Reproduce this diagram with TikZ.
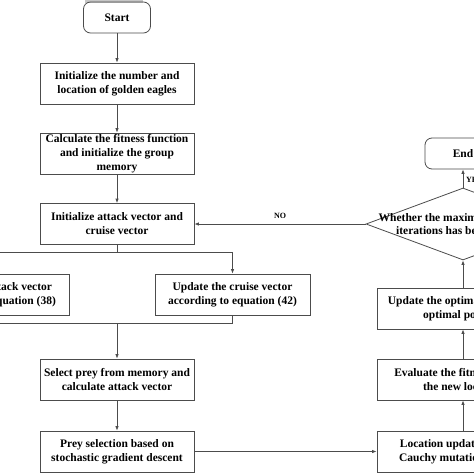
\documentclass[tikz,border=0pt]{standalone}
\usepackage{fontspec}
\setmainfont{Liberation Serif}
\usetikzlibrary{arrows.meta,shapes.geometric}
\tikzset{
  ln/.style={draw=black!70, line width=0.8pt},
  arr/.style={ln, -{Latex[length=4.5pt,width=3.5pt]}},
  box/.style={ln, rectangle, align=center, font=\bfseries\fontsize{11.5}{14}\selectfont, inner sep=0pt, minimum width=154pt, minimum height=41pt},
  rbox/.style={box, minimum width=172pt},
  term/.style={box, rounded corners=7pt, minimum width=67pt, minimum height=31pt},
  lbl/.style={font=\bfseries\fontsize{8}{9}\selectfont, inner sep=0pt}
}
\begin{document}
\begin{tikzpicture}[x=1pt,y=-1pt]
\useasboundingbox (0,0) rectangle (474,474);
\clip (0,0) rectangle (474,474);
\fill[white] (0,0) rectangle (474,474);
\fill[gray!45] (85,0) rectangle (143,3);
\node[term] (start) at (117,17.5) {Start};
\node[box] (b1) at (117,83.5) {Initialize the number and\\location of golden eagles};
\node[box] (b2) at (117,153.5) {Calculate the fitness function\\and initialize the group\\memory};
\node[box] (b3) at (117,224) {Initialize attack vector and\\cruise vector};
\node[box, minimum width=155pt] (ba) at (-8.5,294.5) {Update the attack vector\\according to equation (38)};
\node[box, minimum width=155pt] (bc) at (232.5,294.5) {Update the cruise vector\\according to equation (42)};
\node[box] (b4) at (117,379.5) {Select prey from memory and\\calculate attack vector};
\node[box] (b5) at (117,451.5) {Prey selection based on\\stochastic gradient descent};
\node[rbox] (r1) at (463,451.5) {Location update based on\\Cauchy mutation strategy};
\node[rbox] (r2) at (463,379.5) {Evaluate the fitness value of\\the new location};
\node[rbox] (r3) at (463,308.5) {Update the optimal fitness and\\optimal position};
\node[ln, diamond, minimum width=194pt, minimum height=72pt, inner sep=0pt] (dec) at (463,224) {};
\node[align=center, inner sep=0pt, font=\bfseries\fontsize{11.5}{13}\selectfont] (dect) at (dec.center) {Whether the maximum number of\\iterations has been reached};
\node[term, minimum width=76pt] (end) at (463,153.5) {End};
\draw[arr] (start) -- (b1);
\draw[arr] (b1) -- (b2);
\draw[arr] (b2) -- (b3);
\coordinate (s1) at (117,252);
\coordinate (s2) at (117,323);
\draw[ln] (b3.south) -- (s1);
\draw[ln] (ba.north |- s1) -- (bc.north |- s1);
\draw[arr] (ba.north |- s1) -- (ba.north);
\draw[arr] (bc.north |- s1) -- (bc.north);
\draw[ln] (ba.south) -- (ba.south |- s2) -- (bc.south |- s2) -- (bc.south);
\draw[arr] (s2) -- (b4);
\draw[arr] (b4) -- (b5);
\draw[arr] (b5) -- (r1);
\draw[arr] (r1) -- (r2);
\draw[arr] (r2) -- (r3);
\draw[arr] (r3) -- (dec.south);
\draw[arr] (dec.north) -- (end);
\draw[arr] (dec.west) -- node[lbl, above=5pt] {NO} (b3.east);
\node[lbl, anchor=west] (yes) at (466,180) {YES};
\end{tikzpicture}
\end{document}
